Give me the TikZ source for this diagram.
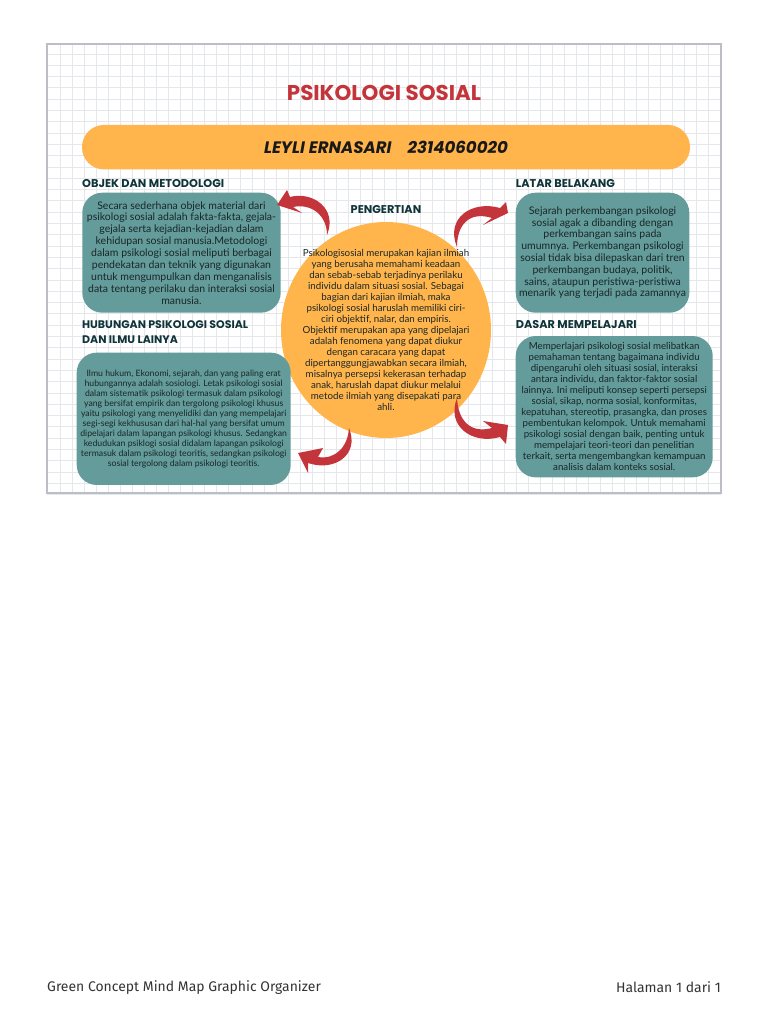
\documentclass[tikz,border=0pt]{standalone}
\usepackage{fontspec}
\setmainfont{Lato}
\newfontfamily\headfont{Poppins}
\newfontfamily\footfont{Fira Sans}
\definecolor{teal1}{HTML}{639C9A}
\definecolor{orange1}{HTML}{FFB54C}
\definecolor{red1}{HTML}{C4343B}
\definecolor{dark1}{HTML}{0E3338}
\definecolor{grid1}{HTML}{E6E7EA}
\definecolor{frame1}{HTML}{BCBEC6}
\definecolor{ink1}{HTML}{1A2628}
\usetikzlibrary{shapes.geometric}
\tikzset{
  x=1pt,y=-1pt,
  tealbox/.style={fill=teal1,rounded corners=20pt,inner sep=0pt,align=center,text=ink1},
  heading/.style={font=\headfont\bfseries\fontsize{11.3}{14.6}\selectfont,text=dark1,anchor=west,align=left,inner sep=0pt},
  curvearrow/.style={fill=red1,draw=none},
  gridline/.style={draw=grid1,line width=0.9pt},
  foot/.style={font=\footfont\fontsize{13.95}{15}\selectfont,text=black!80,inner sep=0pt},
}
\begin{document}
\begin{tikzpicture}
\useasboundingbox (0,0) rectangle (768,1024);
\fill[white] (0,0) rectangle (768,1024);
% grid
\foreach \i in {0,...,54} {\draw[gridline] ({60+12*\i},44) -- ({60+12*\i},493);}
\foreach \i in {0,...,39} {\draw[gridline] (47,{54+11.3*\i}) -- (721,{54+11.3*\i});}
\draw[frame1,line width=1.5pt] (47,44) rectangle (721,493);
% title
\node[font=\headfont\bfseries\fontsize{21.4}{24}\selectfont,text=red1,inner sep=0pt] (title) at (384,93) {PSIKOLOGI SOSIAL};
\node[fill=orange1,rounded corners=22pt,minimum width=608pt,minimum height=44.5pt,inner sep=0pt,
  font=\headfont\itshape\bfseries\fontsize{16.6}{18}\selectfont,text=black!90] (name) at (386,147.2) {\raisebox{-1pt}{LEYLI ERNASARI\hspace{16pt}2314060020}};
% headings
\node[heading] (h1) at (82,183.7) {OBJEK DAN METODOLOGI};
\node[heading,font=\headfont\bfseries\fontsize{11}{14.6}\selectfont] (h2) at (82,332) {HUBUNGAN PSIKOLOGI SOSIAL\\DAN ILMU LAINYA};
\node[heading] (h3) at (515.7,183.7) {LATAR BELAKANG};
\node[heading] (h4) at (515.7,324.7) {DASAR MEMPELAJARI};
\node[heading,anchor=center] (h5) at (386,210) {PENGERTIAN};
% circle
\node[ellipse,fill=orange1,minimum width=210pt,minimum height=216pt,inner sep=0pt] (centre) at (386,330) {};
\node[inner sep=0pt,align=center,text=ink1,font=\fontsize{9.75}{11}\selectfont] (centretext) at (centre.center) {Psikologisosial merupakan kajian ilmiah\\
yang berusaha memahami keadaan\\
dan sebab-sebab terjadinya perilaku\\
individu dalam situasi sosial. Sebagai\\
bagian dari kajian ilmiah, maka\\
psikologi sosial haruslah memiliki ciri-\\
ciri objektif, nalar, dan empiris.\\
Objektif merupakan apa yang dipelajari\\
adalah fenomena yang dapat diukur\\
dengan caracara yang dapat\\
dipertanggungjawabkan secara ilmiah,\\
misalnya persepsi kekerasan terhadap\\
anak, haruslah dapat diukur melalui\\
metode ilmiah yang disepakati para\\
ahli.};
% boxes
\node[tealbox,minimum width=198.4pt,minimum height=120pt,font=\fontsize{10.5}{11.87}\selectfont] (b1) at (181.5,252.7) {Secara sederhana objek material dari\\
psikologi sosial adalah fakta-fakta, gejala-\\
gejala serta kejadian-kejadian dalam\\
kehidupan sosial manusia.Metodologi\\
dalam psikologi sosial meliputi berbagai\\
pendekatan dan teknik yang digunakan\\
untuk mengumpulkan dan menganalisis\\
data tentang perilaku dan interaksi sosial\\
manusia.};
\node[tealbox,minimum width=214pt,minimum height=132.3pt,font=\fontsize{8.7}{10.04}\selectfont] (b2) at (183.7,418.8) {Ilmu hukum, Ekonomi, sejarah, dan yang paling erat\\
hubungannya adalah sosiologi. Letak psikologi sosial\\
dalam sistematik psikologi termasuk dalam psikologi\\
yang bersifat empirik dan tergolong psikologi khusus\\
yaitu psikologi yang menyelidiki dan yang mempelajari\\
segi-segi kekhususan dari hal-hal yang bersifat umum\\
dipelajari dalam lapangan psikologi khusus. Sedangkan\\
kedudukan psiklogi sosial didalam lapangan psikologi\\
termasuk dalam psikologi teoritis, sedangkan psikologi\\
sosial tergolong dalam psikologi teoritis.};
\node[tealbox,minimum width=173.6pt,minimum height=120pt,font=\fontsize{10.5}{11.8}\selectfont] (b3) at (602.5,252.7) {Sejarah perkembangan psikologi\\
sosial agak a dibanding dengan\\
perkembangan sains pada\\
umumnya. Perkembangan psikologi\\
sosial tidak bisa dilepaskan dari tren\\
perkembangan budaya, politik,\\
sains, ataupun peristiwa-peristiwa\\
menarik yang terjadi pada zamannya};
\node[tealbox,minimum width=197pt,minimum height=141.3pt,font=\fontsize{9.7}{10.97}\selectfont] (b4) at (614.2,406.7) {Memperlajari psikologi sosial melibatkan\\
pemahaman tentang bagaimana individu\\
dipengaruhi oleh situasi sosial, interaksi\\
antara individu, dan faktor-faktor sosial\\
lainnya. Ini meliputi konsep seperti persepsi\\
sosial, sikap, norma sosial, konformitas,\\
kepatuhan, stereotip, prasangka, dan proses\\
pembentukan kelompok. Untuk memahami\\
psikologi sosial dengan baik, penting untuk\\
mempelajari teori-teori dan penelitian\\
terkait, serta mengembangkan kemampuan\\
analisis dalam konteks sosial.};
% arrows
\fill[curvearrow] (277,205) -- (287,190) -- (290,197) .. controls (312,191) and (338,208) .. (327,235)
  .. controls (327,216) and (312,203) .. (293,207) -- (302,213) -- cycle;
\fill[curvearrow] (508,213) -- (506,202) -- (500,208) .. controls (472,200) and (445,218) .. (457,247)
  .. controls (457,224) and (470,211) .. (492,218) -- (483,225) -- cycle;
\fill[curvearrow] (508,425) -- (506,444) -- (500,437) .. controls (472,445) and (446,426) .. (457,398)
  .. controls (458,420) and (470,434) .. (492,428) -- (483,421) -- cycle;
\fill[curvearrow] (298,453) -- (308,473) -- (308,463) .. controls (334,472) and (360,455) .. (349,428)
  .. controls (348,446) and (336,460) .. (318,457) -- (323,448) -- cycle;
% footer
\node[foot,anchor=west] (f1) at (47,987.5) {Green Concept Mind Map Graphic Organizer};
\node[foot,anchor=east] (f2) at (721,987.5) {Halaman 1 dari 1};
\end{tikzpicture}
\end{document}
